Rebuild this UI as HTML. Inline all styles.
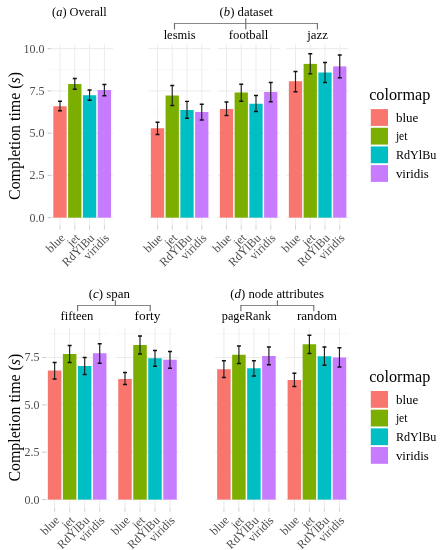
<!DOCTYPE html>
<html><head><meta charset="utf-8"><style>
html,body{margin:0;padding:0;background:#fff;}
svg{display:block;font-family:'Liberation Serif', serif;will-change:transform;}
</style></head><body>
<svg width="440" height="550" viewBox="0 0 440 550">
<rect width="440" height="550" fill="#fff"/>
<line x1="51.1" x2="113.26" y1="196.53" y2="196.53" stroke="#F4F4F4" stroke-width="0.6"/>
<line x1="51.1" x2="113.26" y1="154.28" y2="154.28" stroke="#F4F4F4" stroke-width="0.6"/>
<line x1="51.1" x2="113.26" y1="112.03" y2="112.03" stroke="#F4F4F4" stroke-width="0.6"/>
<line x1="51.1" x2="113.26" y1="69.78" y2="69.78" stroke="#F4F4F4" stroke-width="0.6"/>
<line x1="51.1" x2="113.26" y1="217.65" y2="217.65" stroke="#EBEBEB" stroke-width="1"/>
<line x1="51.1" x2="113.26" y1="175.40" y2="175.40" stroke="#EBEBEB" stroke-width="1"/>
<line x1="51.1" x2="113.26" y1="133.15" y2="133.15" stroke="#EBEBEB" stroke-width="1"/>
<line x1="51.1" x2="113.26" y1="90.90" y2="90.90" stroke="#EBEBEB" stroke-width="1"/>
<line x1="51.1" x2="113.26" y1="48.65" y2="48.65" stroke="#EBEBEB" stroke-width="1"/>
<line x1="59.98" x2="59.98" y1="44.3" y2="225.0" stroke="#EBEBEB" stroke-width="1"/>
<line x1="59.98" x2="59.98" y1="225.0" y2="229.6" stroke="#D4D4D4" stroke-width="1"/>
<line x1="74.78" x2="74.78" y1="44.3" y2="225.0" stroke="#EBEBEB" stroke-width="1"/>
<line x1="74.78" x2="74.78" y1="225.0" y2="229.6" stroke="#D4D4D4" stroke-width="1"/>
<line x1="89.58" x2="89.58" y1="44.3" y2="225.0" stroke="#EBEBEB" stroke-width="1"/>
<line x1="89.58" x2="89.58" y1="225.0" y2="229.6" stroke="#D4D4D4" stroke-width="1"/>
<line x1="104.38" x2="104.38" y1="44.3" y2="225.0" stroke="#EBEBEB" stroke-width="1"/>
<line x1="104.38" x2="104.38" y1="225.0" y2="229.6" stroke="#D4D4D4" stroke-width="1"/>
<line x1="148.65" x2="210.60000000000002" y1="196.53" y2="196.53" stroke="#F4F4F4" stroke-width="0.6"/>
<line x1="148.65" x2="210.60000000000002" y1="154.28" y2="154.28" stroke="#F4F4F4" stroke-width="0.6"/>
<line x1="148.65" x2="210.60000000000002" y1="112.03" y2="112.03" stroke="#F4F4F4" stroke-width="0.6"/>
<line x1="148.65" x2="210.60000000000002" y1="69.78" y2="69.78" stroke="#F4F4F4" stroke-width="0.6"/>
<line x1="148.65" x2="210.60000000000002" y1="217.65" y2="217.65" stroke="#EBEBEB" stroke-width="1"/>
<line x1="148.65" x2="210.60000000000002" y1="175.40" y2="175.40" stroke="#EBEBEB" stroke-width="1"/>
<line x1="148.65" x2="210.60000000000002" y1="133.15" y2="133.15" stroke="#EBEBEB" stroke-width="1"/>
<line x1="148.65" x2="210.60000000000002" y1="90.90" y2="90.90" stroke="#EBEBEB" stroke-width="1"/>
<line x1="148.65" x2="210.60000000000002" y1="48.65" y2="48.65" stroke="#EBEBEB" stroke-width="1"/>
<line x1="157.50" x2="157.50" y1="44.3" y2="225.0" stroke="#EBEBEB" stroke-width="1"/>
<line x1="157.50" x2="157.50" y1="225.0" y2="229.6" stroke="#D4D4D4" stroke-width="1"/>
<line x1="172.25" x2="172.25" y1="44.3" y2="225.0" stroke="#EBEBEB" stroke-width="1"/>
<line x1="172.25" x2="172.25" y1="225.0" y2="229.6" stroke="#D4D4D4" stroke-width="1"/>
<line x1="187.00" x2="187.00" y1="44.3" y2="225.0" stroke="#EBEBEB" stroke-width="1"/>
<line x1="187.00" x2="187.00" y1="225.0" y2="229.6" stroke="#D4D4D4" stroke-width="1"/>
<line x1="201.75" x2="201.75" y1="44.3" y2="225.0" stroke="#EBEBEB" stroke-width="1"/>
<line x1="201.75" x2="201.75" y1="225.0" y2="229.6" stroke="#D4D4D4" stroke-width="1"/>
<line x1="217.65" x2="279.6" y1="196.53" y2="196.53" stroke="#F4F4F4" stroke-width="0.6"/>
<line x1="217.65" x2="279.6" y1="154.28" y2="154.28" stroke="#F4F4F4" stroke-width="0.6"/>
<line x1="217.65" x2="279.6" y1="112.03" y2="112.03" stroke="#F4F4F4" stroke-width="0.6"/>
<line x1="217.65" x2="279.6" y1="69.78" y2="69.78" stroke="#F4F4F4" stroke-width="0.6"/>
<line x1="217.65" x2="279.6" y1="217.65" y2="217.65" stroke="#EBEBEB" stroke-width="1"/>
<line x1="217.65" x2="279.6" y1="175.40" y2="175.40" stroke="#EBEBEB" stroke-width="1"/>
<line x1="217.65" x2="279.6" y1="133.15" y2="133.15" stroke="#EBEBEB" stroke-width="1"/>
<line x1="217.65" x2="279.6" y1="90.90" y2="90.90" stroke="#EBEBEB" stroke-width="1"/>
<line x1="217.65" x2="279.6" y1="48.65" y2="48.65" stroke="#EBEBEB" stroke-width="1"/>
<line x1="226.50" x2="226.50" y1="44.3" y2="225.0" stroke="#EBEBEB" stroke-width="1"/>
<line x1="226.50" x2="226.50" y1="225.0" y2="229.6" stroke="#D4D4D4" stroke-width="1"/>
<line x1="241.25" x2="241.25" y1="44.3" y2="225.0" stroke="#EBEBEB" stroke-width="1"/>
<line x1="241.25" x2="241.25" y1="225.0" y2="229.6" stroke="#D4D4D4" stroke-width="1"/>
<line x1="256.00" x2="256.00" y1="44.3" y2="225.0" stroke="#EBEBEB" stroke-width="1"/>
<line x1="256.00" x2="256.00" y1="225.0" y2="229.6" stroke="#D4D4D4" stroke-width="1"/>
<line x1="270.75" x2="270.75" y1="44.3" y2="225.0" stroke="#EBEBEB" stroke-width="1"/>
<line x1="270.75" x2="270.75" y1="225.0" y2="229.6" stroke="#D4D4D4" stroke-width="1"/>
<line x1="286.65" x2="348.59999999999997" y1="196.53" y2="196.53" stroke="#F4F4F4" stroke-width="0.6"/>
<line x1="286.65" x2="348.59999999999997" y1="154.28" y2="154.28" stroke="#F4F4F4" stroke-width="0.6"/>
<line x1="286.65" x2="348.59999999999997" y1="112.03" y2="112.03" stroke="#F4F4F4" stroke-width="0.6"/>
<line x1="286.65" x2="348.59999999999997" y1="69.78" y2="69.78" stroke="#F4F4F4" stroke-width="0.6"/>
<line x1="286.65" x2="348.59999999999997" y1="217.65" y2="217.65" stroke="#EBEBEB" stroke-width="1"/>
<line x1="286.65" x2="348.59999999999997" y1="175.40" y2="175.40" stroke="#EBEBEB" stroke-width="1"/>
<line x1="286.65" x2="348.59999999999997" y1="133.15" y2="133.15" stroke="#EBEBEB" stroke-width="1"/>
<line x1="286.65" x2="348.59999999999997" y1="90.90" y2="90.90" stroke="#EBEBEB" stroke-width="1"/>
<line x1="286.65" x2="348.59999999999997" y1="48.65" y2="48.65" stroke="#EBEBEB" stroke-width="1"/>
<line x1="295.50" x2="295.50" y1="44.3" y2="225.0" stroke="#EBEBEB" stroke-width="1"/>
<line x1="295.50" x2="295.50" y1="225.0" y2="229.6" stroke="#D4D4D4" stroke-width="1"/>
<line x1="310.25" x2="310.25" y1="44.3" y2="225.0" stroke="#EBEBEB" stroke-width="1"/>
<line x1="310.25" x2="310.25" y1="225.0" y2="229.6" stroke="#D4D4D4" stroke-width="1"/>
<line x1="325.00" x2="325.00" y1="44.3" y2="225.0" stroke="#EBEBEB" stroke-width="1"/>
<line x1="325.00" x2="325.00" y1="225.0" y2="229.6" stroke="#D4D4D4" stroke-width="1"/>
<line x1="339.75" x2="339.75" y1="44.3" y2="225.0" stroke="#EBEBEB" stroke-width="1"/>
<line x1="339.75" x2="339.75" y1="225.0" y2="229.6" stroke="#D4D4D4" stroke-width="1"/>
<line x1="47.6" x2="51.1" y1="217.65" y2="217.65" stroke="#C8C8C8" stroke-width="1"/>
<text x="44.6" y="221.65" text-anchor="end" font-size="12" fill="#4D4D4D">0.0</text>
<line x1="47.6" x2="51.1" y1="175.40" y2="175.40" stroke="#C8C8C8" stroke-width="1"/>
<text x="44.6" y="179.40" text-anchor="end" font-size="12" fill="#4D4D4D">2.5</text>
<line x1="47.6" x2="51.1" y1="133.15" y2="133.15" stroke="#C8C8C8" stroke-width="1"/>
<text x="44.6" y="137.15" text-anchor="end" font-size="12" fill="#4D4D4D">5.0</text>
<line x1="47.6" x2="51.1" y1="90.90" y2="90.90" stroke="#C8C8C8" stroke-width="1"/>
<text x="44.6" y="94.90" text-anchor="end" font-size="12" fill="#4D4D4D">7.5</text>
<line x1="47.6" x2="51.1" y1="48.65" y2="48.65" stroke="#C8C8C8" stroke-width="1"/>
<text x="44.6" y="52.65" text-anchor="end" font-size="12" fill="#4D4D4D">10.0</text>
<rect x="53.32" y="106.25" width="13.32" height="111.40" fill="#F8766D"/>
<rect x="68.12" y="84.00" width="13.32" height="133.65" fill="#7CAE00"/>
<rect x="82.92" y="95.25" width="13.32" height="122.40" fill="#00BFC4"/>
<rect x="97.72" y="90.00" width="13.32" height="127.65" fill="#C77CFF"/>
<path d="M59.98 101.25V110.75" stroke="#222" stroke-width="1.15" fill="none"/>
<path d="M57.98 101.25H61.98M57.98 110.75H61.98" stroke="#111" stroke-width="1.4" fill="none"/>
<path d="M74.78 78.50V89.25" stroke="#222" stroke-width="1.15" fill="none"/>
<path d="M72.78 78.50H76.78M72.78 89.25H76.78" stroke="#111" stroke-width="1.4" fill="none"/>
<path d="M89.58 90.00V100.25" stroke="#222" stroke-width="1.15" fill="none"/>
<path d="M87.58 90.00H91.58M87.58 100.25H91.58" stroke="#111" stroke-width="1.4" fill="none"/>
<path d="M104.38 84.50V95.75" stroke="#222" stroke-width="1.15" fill="none"/>
<path d="M102.38 84.50H106.38M102.38 95.75H106.38" stroke="#111" stroke-width="1.4" fill="none"/>
<rect x="150.86" y="128.25" width="13.28" height="89.40" fill="#F8766D"/>
<rect x="165.61" y="95.50" width="13.28" height="122.15" fill="#7CAE00"/>
<rect x="180.36" y="110.00" width="13.28" height="107.65" fill="#00BFC4"/>
<rect x="195.11" y="112.00" width="13.28" height="105.65" fill="#C77CFF"/>
<path d="M157.50 122.20V134.50" stroke="#222" stroke-width="1.15" fill="none"/>
<path d="M155.50 122.20H159.50M155.50 134.50H159.50" stroke="#111" stroke-width="1.4" fill="none"/>
<path d="M172.25 85.50V105.50" stroke="#222" stroke-width="1.15" fill="none"/>
<path d="M170.25 85.50H174.25M170.25 105.50H174.25" stroke="#111" stroke-width="1.4" fill="none"/>
<path d="M187.00 101.40V118.25" stroke="#222" stroke-width="1.15" fill="none"/>
<path d="M185.00 101.40H189.00M185.00 118.25H189.00" stroke="#111" stroke-width="1.4" fill="none"/>
<path d="M201.75 104.20V120.00" stroke="#222" stroke-width="1.15" fill="none"/>
<path d="M199.75 104.20H203.75M199.75 120.00H203.75" stroke="#111" stroke-width="1.4" fill="none"/>
<rect x="219.86" y="109.00" width="13.28" height="108.65" fill="#F8766D"/>
<rect x="234.61" y="92.50" width="13.28" height="125.15" fill="#7CAE00"/>
<rect x="249.36" y="103.75" width="13.28" height="113.90" fill="#00BFC4"/>
<rect x="264.11" y="92.00" width="13.28" height="125.65" fill="#C77CFF"/>
<path d="M226.50 102.00V115.50" stroke="#222" stroke-width="1.15" fill="none"/>
<path d="M224.50 102.00H228.50M224.50 115.50H228.50" stroke="#111" stroke-width="1.4" fill="none"/>
<path d="M241.25 84.25V101.25" stroke="#222" stroke-width="1.15" fill="none"/>
<path d="M239.25 84.25H243.25M239.25 101.25H243.25" stroke="#111" stroke-width="1.4" fill="none"/>
<path d="M256.00 95.50V111.50" stroke="#222" stroke-width="1.15" fill="none"/>
<path d="M254.00 95.50H258.00M254.00 111.50H258.00" stroke="#111" stroke-width="1.4" fill="none"/>
<path d="M270.75 82.50V101.75" stroke="#222" stroke-width="1.15" fill="none"/>
<path d="M268.75 82.50H272.75M268.75 101.75H272.75" stroke="#111" stroke-width="1.4" fill="none"/>
<rect x="288.86" y="81.25" width="13.28" height="136.40" fill="#F8766D"/>
<rect x="303.61" y="63.90" width="13.28" height="153.75" fill="#7CAE00"/>
<rect x="318.36" y="72.50" width="13.28" height="145.15" fill="#00BFC4"/>
<rect x="333.11" y="66.40" width="13.28" height="151.25" fill="#C77CFF"/>
<path d="M295.50 71.50V91.75" stroke="#222" stroke-width="1.15" fill="none"/>
<path d="M293.50 71.50H297.50M293.50 91.75H297.50" stroke="#111" stroke-width="1.4" fill="none"/>
<path d="M310.25 53.80V73.90" stroke="#222" stroke-width="1.15" fill="none"/>
<path d="M308.25 53.80H312.25M308.25 73.90H312.25" stroke="#111" stroke-width="1.4" fill="none"/>
<path d="M325.00 62.50V82.50" stroke="#222" stroke-width="1.15" fill="none"/>
<path d="M323.00 62.50H327.00M323.00 82.50H327.00" stroke="#111" stroke-width="1.4" fill="none"/>
<path d="M339.75 55.00V77.80" stroke="#222" stroke-width="1.15" fill="none"/>
<path d="M337.75 55.00H341.75M337.75 77.80H341.75" stroke="#111" stroke-width="1.4" fill="none"/>
<line x1="45.6" x2="108.726" y1="475.91" y2="475.91" stroke="#F4F4F4" stroke-width="0.6"/>
<line x1="45.6" x2="108.726" y1="428.54" y2="428.54" stroke="#F4F4F4" stroke-width="0.6"/>
<line x1="45.6" x2="108.726" y1="381.16" y2="381.16" stroke="#F4F4F4" stroke-width="0.6"/>
<line x1="45.6" x2="108.726" y1="333.79" y2="333.79" stroke="#F4F4F4" stroke-width="0.6"/>
<line x1="45.6" x2="108.726" y1="499.60" y2="499.60" stroke="#EBEBEB" stroke-width="1"/>
<line x1="45.6" x2="108.726" y1="452.23" y2="452.23" stroke="#EBEBEB" stroke-width="1"/>
<line x1="45.6" x2="108.726" y1="404.85" y2="404.85" stroke="#EBEBEB" stroke-width="1"/>
<line x1="45.6" x2="108.726" y1="357.48" y2="357.48" stroke="#EBEBEB" stroke-width="1"/>
<line x1="54.62" x2="54.62" y1="327.5" y2="507.5" stroke="#EBEBEB" stroke-width="1"/>
<line x1="54.62" x2="54.62" y1="507.5" y2="511.8" stroke="#D4D4D4" stroke-width="1"/>
<line x1="69.65" x2="69.65" y1="327.5" y2="507.5" stroke="#EBEBEB" stroke-width="1"/>
<line x1="69.65" x2="69.65" y1="507.5" y2="511.8" stroke="#D4D4D4" stroke-width="1"/>
<line x1="84.68" x2="84.68" y1="327.5" y2="507.5" stroke="#EBEBEB" stroke-width="1"/>
<line x1="84.68" x2="84.68" y1="507.5" y2="511.8" stroke="#D4D4D4" stroke-width="1"/>
<line x1="99.71" x2="99.71" y1="327.5" y2="507.5" stroke="#EBEBEB" stroke-width="1"/>
<line x1="99.71" x2="99.71" y1="507.5" y2="511.8" stroke="#D4D4D4" stroke-width="1"/>
<line x1="116.0" x2="179.0" y1="475.91" y2="475.91" stroke="#F4F4F4" stroke-width="0.6"/>
<line x1="116.0" x2="179.0" y1="428.54" y2="428.54" stroke="#F4F4F4" stroke-width="0.6"/>
<line x1="116.0" x2="179.0" y1="381.16" y2="381.16" stroke="#F4F4F4" stroke-width="0.6"/>
<line x1="116.0" x2="179.0" y1="333.79" y2="333.79" stroke="#F4F4F4" stroke-width="0.6"/>
<line x1="116.0" x2="179.0" y1="499.60" y2="499.60" stroke="#EBEBEB" stroke-width="1"/>
<line x1="116.0" x2="179.0" y1="452.23" y2="452.23" stroke="#EBEBEB" stroke-width="1"/>
<line x1="116.0" x2="179.0" y1="404.85" y2="404.85" stroke="#EBEBEB" stroke-width="1"/>
<line x1="116.0" x2="179.0" y1="357.48" y2="357.48" stroke="#EBEBEB" stroke-width="1"/>
<line x1="125.00" x2="125.00" y1="327.5" y2="507.5" stroke="#EBEBEB" stroke-width="1"/>
<line x1="125.00" x2="125.00" y1="507.5" y2="511.8" stroke="#D4D4D4" stroke-width="1"/>
<line x1="140.00" x2="140.00" y1="327.5" y2="507.5" stroke="#EBEBEB" stroke-width="1"/>
<line x1="140.00" x2="140.00" y1="507.5" y2="511.8" stroke="#D4D4D4" stroke-width="1"/>
<line x1="155.00" x2="155.00" y1="327.5" y2="507.5" stroke="#EBEBEB" stroke-width="1"/>
<line x1="155.00" x2="155.00" y1="507.5" y2="511.8" stroke="#D4D4D4" stroke-width="1"/>
<line x1="170.00" x2="170.00" y1="327.5" y2="507.5" stroke="#EBEBEB" stroke-width="1"/>
<line x1="170.00" x2="170.00" y1="507.5" y2="511.8" stroke="#D4D4D4" stroke-width="1"/>
<line x1="214.9" x2="277.9" y1="475.91" y2="475.91" stroke="#F4F4F4" stroke-width="0.6"/>
<line x1="214.9" x2="277.9" y1="428.54" y2="428.54" stroke="#F4F4F4" stroke-width="0.6"/>
<line x1="214.9" x2="277.9" y1="381.16" y2="381.16" stroke="#F4F4F4" stroke-width="0.6"/>
<line x1="214.9" x2="277.9" y1="333.79" y2="333.79" stroke="#F4F4F4" stroke-width="0.6"/>
<line x1="214.9" x2="277.9" y1="499.60" y2="499.60" stroke="#EBEBEB" stroke-width="1"/>
<line x1="214.9" x2="277.9" y1="452.23" y2="452.23" stroke="#EBEBEB" stroke-width="1"/>
<line x1="214.9" x2="277.9" y1="404.85" y2="404.85" stroke="#EBEBEB" stroke-width="1"/>
<line x1="214.9" x2="277.9" y1="357.48" y2="357.48" stroke="#EBEBEB" stroke-width="1"/>
<line x1="223.90" x2="223.90" y1="327.5" y2="507.5" stroke="#EBEBEB" stroke-width="1"/>
<line x1="223.90" x2="223.90" y1="507.5" y2="511.8" stroke="#D4D4D4" stroke-width="1"/>
<line x1="238.90" x2="238.90" y1="327.5" y2="507.5" stroke="#EBEBEB" stroke-width="1"/>
<line x1="238.90" x2="238.90" y1="507.5" y2="511.8" stroke="#D4D4D4" stroke-width="1"/>
<line x1="253.90" x2="253.90" y1="327.5" y2="507.5" stroke="#EBEBEB" stroke-width="1"/>
<line x1="253.90" x2="253.90" y1="507.5" y2="511.8" stroke="#D4D4D4" stroke-width="1"/>
<line x1="268.90" x2="268.90" y1="327.5" y2="507.5" stroke="#EBEBEB" stroke-width="1"/>
<line x1="268.90" x2="268.90" y1="507.5" y2="511.8" stroke="#D4D4D4" stroke-width="1"/>
<line x1="285.35" x2="348.476" y1="475.91" y2="475.91" stroke="#F4F4F4" stroke-width="0.6"/>
<line x1="285.35" x2="348.476" y1="428.54" y2="428.54" stroke="#F4F4F4" stroke-width="0.6"/>
<line x1="285.35" x2="348.476" y1="381.16" y2="381.16" stroke="#F4F4F4" stroke-width="0.6"/>
<line x1="285.35" x2="348.476" y1="333.79" y2="333.79" stroke="#F4F4F4" stroke-width="0.6"/>
<line x1="285.35" x2="348.476" y1="499.60" y2="499.60" stroke="#EBEBEB" stroke-width="1"/>
<line x1="285.35" x2="348.476" y1="452.23" y2="452.23" stroke="#EBEBEB" stroke-width="1"/>
<line x1="285.35" x2="348.476" y1="404.85" y2="404.85" stroke="#EBEBEB" stroke-width="1"/>
<line x1="285.35" x2="348.476" y1="357.48" y2="357.48" stroke="#EBEBEB" stroke-width="1"/>
<line x1="294.37" x2="294.37" y1="327.5" y2="507.5" stroke="#EBEBEB" stroke-width="1"/>
<line x1="294.37" x2="294.37" y1="507.5" y2="511.8" stroke="#D4D4D4" stroke-width="1"/>
<line x1="309.40" x2="309.40" y1="327.5" y2="507.5" stroke="#EBEBEB" stroke-width="1"/>
<line x1="309.40" x2="309.40" y1="507.5" y2="511.8" stroke="#D4D4D4" stroke-width="1"/>
<line x1="324.43" x2="324.43" y1="327.5" y2="507.5" stroke="#EBEBEB" stroke-width="1"/>
<line x1="324.43" x2="324.43" y1="507.5" y2="511.8" stroke="#D4D4D4" stroke-width="1"/>
<line x1="339.46" x2="339.46" y1="327.5" y2="507.5" stroke="#EBEBEB" stroke-width="1"/>
<line x1="339.46" x2="339.46" y1="507.5" y2="511.8" stroke="#D4D4D4" stroke-width="1"/>
<line x1="42.2" x2="45.6" y1="499.60" y2="499.60" stroke="#C8C8C8" stroke-width="1"/>
<text x="39.4" y="503.60" text-anchor="end" font-size="12" fill="#4D4D4D">0.0</text>
<line x1="42.2" x2="45.6" y1="452.23" y2="452.23" stroke="#C8C8C8" stroke-width="1"/>
<text x="39.4" y="456.23" text-anchor="end" font-size="12" fill="#4D4D4D">2.5</text>
<line x1="42.2" x2="45.6" y1="404.85" y2="404.85" stroke="#C8C8C8" stroke-width="1"/>
<text x="39.4" y="408.85" text-anchor="end" font-size="12" fill="#4D4D4D">5.0</text>
<line x1="42.2" x2="45.6" y1="357.48" y2="357.48" stroke="#C8C8C8" stroke-width="1"/>
<text x="39.4" y="361.48" text-anchor="end" font-size="12" fill="#4D4D4D">7.5</text>
<rect x="47.85" y="370.50" width="13.53" height="129.10" fill="#F8766D"/>
<rect x="62.88" y="354.00" width="13.53" height="145.60" fill="#7CAE00"/>
<rect x="77.91" y="366.00" width="13.53" height="133.60" fill="#00BFC4"/>
<rect x="92.94" y="353.25" width="13.53" height="146.35" fill="#C77CFF"/>
<path d="M54.62 362.50V379.00" stroke="#222" stroke-width="1.15" fill="none"/>
<path d="M52.62 362.50H56.62M52.62 379.00H56.62" stroke="#111" stroke-width="1.4" fill="none"/>
<path d="M69.65 345.50V362.50" stroke="#222" stroke-width="1.15" fill="none"/>
<path d="M67.65 345.50H71.65M67.65 362.50H71.65" stroke="#111" stroke-width="1.4" fill="none"/>
<path d="M84.68 357.50V374.50" stroke="#222" stroke-width="1.15" fill="none"/>
<path d="M82.68 357.50H86.68M82.68 374.50H86.68" stroke="#111" stroke-width="1.4" fill="none"/>
<path d="M99.71 343.75V363.25" stroke="#222" stroke-width="1.15" fill="none"/>
<path d="M97.71 343.75H101.71M97.71 363.25H101.71" stroke="#111" stroke-width="1.4" fill="none"/>
<rect x="118.25" y="379.00" width="13.50" height="120.60" fill="#F8766D"/>
<rect x="133.25" y="345.00" width="13.50" height="154.60" fill="#7CAE00"/>
<rect x="148.25" y="358.25" width="13.50" height="141.35" fill="#00BFC4"/>
<rect x="163.25" y="359.75" width="13.50" height="139.85" fill="#C77CFF"/>
<path d="M125.00 372.50V384.50" stroke="#222" stroke-width="1.15" fill="none"/>
<path d="M123.00 372.50H127.00M123.00 384.50H127.00" stroke="#111" stroke-width="1.4" fill="none"/>
<path d="M140.00 336.00V354.00" stroke="#222" stroke-width="1.15" fill="none"/>
<path d="M138.00 336.00H142.00M138.00 354.00H142.00" stroke="#111" stroke-width="1.4" fill="none"/>
<path d="M155.00 350.50V366.25" stroke="#222" stroke-width="1.15" fill="none"/>
<path d="M153.00 350.50H157.00M153.00 366.25H157.00" stroke="#111" stroke-width="1.4" fill="none"/>
<path d="M170.00 351.50V368.25" stroke="#222" stroke-width="1.15" fill="none"/>
<path d="M168.00 351.50H172.00M168.00 368.25H172.00" stroke="#111" stroke-width="1.4" fill="none"/>
<rect x="217.15" y="369.25" width="13.50" height="130.35" fill="#F8766D"/>
<rect x="232.15" y="354.75" width="13.50" height="144.85" fill="#7CAE00"/>
<rect x="247.15" y="368.25" width="13.50" height="131.35" fill="#00BFC4"/>
<rect x="262.15" y="356.00" width="13.50" height="143.60" fill="#C77CFF"/>
<path d="M223.90 360.75V377.50" stroke="#222" stroke-width="1.15" fill="none"/>
<path d="M221.90 360.75H225.90M221.90 377.50H225.90" stroke="#111" stroke-width="1.4" fill="none"/>
<path d="M238.90 346.00V363.50" stroke="#222" stroke-width="1.15" fill="none"/>
<path d="M236.90 346.00H240.90M236.90 363.50H240.90" stroke="#111" stroke-width="1.4" fill="none"/>
<path d="M253.90 360.75V376.00" stroke="#222" stroke-width="1.15" fill="none"/>
<path d="M251.90 360.75H255.90M251.90 376.00H255.90" stroke="#111" stroke-width="1.4" fill="none"/>
<path d="M268.90 347.00V364.75" stroke="#222" stroke-width="1.15" fill="none"/>
<path d="M266.90 347.00H270.90M266.90 364.75H270.90" stroke="#111" stroke-width="1.4" fill="none"/>
<rect x="287.60" y="380.00" width="13.53" height="119.60" fill="#F8766D"/>
<rect x="302.63" y="344.25" width="13.53" height="155.35" fill="#7CAE00"/>
<rect x="317.66" y="356.25" width="13.53" height="143.35" fill="#00BFC4"/>
<rect x="332.69" y="357.50" width="13.53" height="142.10" fill="#C77CFF"/>
<path d="M294.37 373.25V386.50" stroke="#222" stroke-width="1.15" fill="none"/>
<path d="M292.37 373.25H296.37M292.37 386.50H296.37" stroke="#111" stroke-width="1.4" fill="none"/>
<path d="M309.40 335.25V353.50" stroke="#222" stroke-width="1.15" fill="none"/>
<path d="M307.40 335.25H311.40M307.40 353.50H311.40" stroke="#111" stroke-width="1.4" fill="none"/>
<path d="M324.43 347.00V365.25" stroke="#222" stroke-width="1.15" fill="none"/>
<path d="M322.43 347.00H326.43M322.43 365.25H326.43" stroke="#111" stroke-width="1.4" fill="none"/>
<path d="M339.46 347.75V367.00" stroke="#222" stroke-width="1.15" fill="none"/>
<path d="M337.46 347.75H341.46M337.46 367.00H341.46" stroke="#111" stroke-width="1.4" fill="none"/>
<text transform="translate(65.48,238.70) rotate(-45)" text-anchor="end" font-size="12.0" fill="#4D4D4D">blue</text>
<text transform="translate(80.28,238.70) rotate(-45)" text-anchor="end" font-size="12.0" fill="#4D4D4D">jet</text>
<text transform="translate(95.08,238.70) rotate(-45)" text-anchor="end" font-size="12.0" fill="#4D4D4D">RdYlBu</text>
<text transform="translate(109.88,238.70) rotate(-45)" text-anchor="end" font-size="12.0" fill="#4D4D4D">viridis</text>
<text transform="translate(163.00,238.70) rotate(-45)" text-anchor="end" font-size="12.0" fill="#4D4D4D">blue</text>
<text transform="translate(177.75,238.70) rotate(-45)" text-anchor="end" font-size="12.0" fill="#4D4D4D">jet</text>
<text transform="translate(192.50,238.70) rotate(-45)" text-anchor="end" font-size="12.0" fill="#4D4D4D">RdYlBu</text>
<text transform="translate(207.25,238.70) rotate(-45)" text-anchor="end" font-size="12.0" fill="#4D4D4D">viridis</text>
<text transform="translate(232.00,238.70) rotate(-45)" text-anchor="end" font-size="12.0" fill="#4D4D4D">blue</text>
<text transform="translate(246.75,238.70) rotate(-45)" text-anchor="end" font-size="12.0" fill="#4D4D4D">jet</text>
<text transform="translate(261.50,238.70) rotate(-45)" text-anchor="end" font-size="12.0" fill="#4D4D4D">RdYlBu</text>
<text transform="translate(276.25,238.70) rotate(-45)" text-anchor="end" font-size="12.0" fill="#4D4D4D">viridis</text>
<text transform="translate(301.00,238.70) rotate(-45)" text-anchor="end" font-size="12.0" fill="#4D4D4D">blue</text>
<text transform="translate(315.75,238.70) rotate(-45)" text-anchor="end" font-size="12.0" fill="#4D4D4D">jet</text>
<text transform="translate(330.50,238.70) rotate(-45)" text-anchor="end" font-size="12.0" fill="#4D4D4D">RdYlBu</text>
<text transform="translate(345.25,238.70) rotate(-45)" text-anchor="end" font-size="12.0" fill="#4D4D4D">viridis</text>
<text transform="translate(60.12,521.10) rotate(-45)" text-anchor="end" font-size="12.0" fill="#4D4D4D">blue</text>
<text transform="translate(75.15,521.10) rotate(-45)" text-anchor="end" font-size="12.0" fill="#4D4D4D">jet</text>
<text transform="translate(90.18,521.10) rotate(-45)" text-anchor="end" font-size="12.0" fill="#4D4D4D">RdYlBu</text>
<text transform="translate(105.21,521.10) rotate(-45)" text-anchor="end" font-size="12.0" fill="#4D4D4D">viridis</text>
<text transform="translate(130.50,521.10) rotate(-45)" text-anchor="end" font-size="12.0" fill="#4D4D4D">blue</text>
<text transform="translate(145.50,521.10) rotate(-45)" text-anchor="end" font-size="12.0" fill="#4D4D4D">jet</text>
<text transform="translate(160.50,521.10) rotate(-45)" text-anchor="end" font-size="12.0" fill="#4D4D4D">RdYlBu</text>
<text transform="translate(175.50,521.10) rotate(-45)" text-anchor="end" font-size="12.0" fill="#4D4D4D">viridis</text>
<text transform="translate(229.40,521.10) rotate(-45)" text-anchor="end" font-size="12.0" fill="#4D4D4D">blue</text>
<text transform="translate(244.40,521.10) rotate(-45)" text-anchor="end" font-size="12.0" fill="#4D4D4D">jet</text>
<text transform="translate(259.40,521.10) rotate(-45)" text-anchor="end" font-size="12.0" fill="#4D4D4D">RdYlBu</text>
<text transform="translate(274.40,521.10) rotate(-45)" text-anchor="end" font-size="12.0" fill="#4D4D4D">viridis</text>
<text transform="translate(299.87,521.10) rotate(-45)" text-anchor="end" font-size="12.0" fill="#4D4D4D">blue</text>
<text transform="translate(314.90,521.10) rotate(-45)" text-anchor="end" font-size="12.0" fill="#4D4D4D">jet</text>
<text transform="translate(329.93,521.10) rotate(-45)" text-anchor="end" font-size="12.0" fill="#4D4D4D">RdYlBu</text>
<text transform="translate(344.96,521.10) rotate(-45)" text-anchor="end" font-size="12.0" fill="#4D4D4D">viridis</text>
<text x="369.2" y="100.2" font-size="15.8" fill="#000" textLength="61.1" lengthAdjust="spacingAndGlyphs">colormap</text>
<rect x="370.8" y="109.10" width="17.2" height="16.8" fill="#F8766D"/>
<text x="395.9" y="121.60" font-size="12.0" fill="#000" textLength="22.4" lengthAdjust="spacingAndGlyphs">blue</text>
<rect x="370.8" y="127.77" width="17.2" height="16.8" fill="#7CAE00"/>
<text x="395.9" y="140.27" font-size="12.0" fill="#000" textLength="11.6" lengthAdjust="spacingAndGlyphs">jet</text>
<rect x="370.8" y="146.44" width="17.2" height="16.8" fill="#00BFC4"/>
<text x="395.9" y="158.94" font-size="12.0" fill="#000" textLength="40.5" lengthAdjust="spacingAndGlyphs">RdYlBu</text>
<rect x="370.8" y="165.11" width="17.2" height="16.8" fill="#C77CFF"/>
<text x="395.9" y="177.61" font-size="12.0" fill="#000" textLength="32.9" lengthAdjust="spacingAndGlyphs">viridis</text>
<text x="369.2" y="381.7" font-size="15.8" fill="#000" textLength="61.1" lengthAdjust="spacingAndGlyphs">colormap</text>
<rect x="370.8" y="391.00" width="17.2" height="16.8" fill="#F8766D"/>
<text x="395.9" y="403.50" font-size="12.0" fill="#000" textLength="22.4" lengthAdjust="spacingAndGlyphs">blue</text>
<rect x="370.8" y="409.67" width="17.2" height="16.8" fill="#7CAE00"/>
<text x="395.9" y="422.17" font-size="12.0" fill="#000" textLength="11.6" lengthAdjust="spacingAndGlyphs">jet</text>
<rect x="370.8" y="428.34" width="17.2" height="16.8" fill="#00BFC4"/>
<text x="395.9" y="440.84" font-size="12.0" fill="#000" textLength="40.5" lengthAdjust="spacingAndGlyphs">RdYlBu</text>
<rect x="370.8" y="447.01" width="17.2" height="16.8" fill="#C77CFF"/>
<text x="395.9" y="459.51" font-size="12.0" fill="#000" textLength="32.9" lengthAdjust="spacingAndGlyphs">viridis</text>
<text transform="translate(19.7,136.0) rotate(-90)" text-anchor="middle" font-size="15.7" fill="#000" textLength="127.9" lengthAdjust="spacingAndGlyphs">Completion time (<tspan font-style="italic">s</tspan>)</text>
<text transform="translate(19.7,417.6) rotate(-90)" text-anchor="middle" font-size="15.7" fill="#000" textLength="127.9" lengthAdjust="spacingAndGlyphs">Completion time (<tspan font-style="italic">s</tspan>)</text>
<text x="79.4" y="16.4" text-anchor="middle" font-size="12.6" fill="#000" textLength="54.6" lengthAdjust="spacingAndGlyphs">(<tspan font-style="italic">a</tspan>) Overall</text>
<text x="246.2" y="16.3" text-anchor="middle" font-size="12.6" fill="#000" textLength="53.3" lengthAdjust="spacingAndGlyphs">(<tspan font-style="italic">b</tspan>) dataset</text>
<text x="109.3" y="297.7" text-anchor="middle" font-size="12.6" fill="#000" textLength="41.2" lengthAdjust="spacingAndGlyphs">(<tspan font-style="italic">c</tspan>) span</text>
<text x="277.1" y="298.0" text-anchor="middle" font-size="12.6" fill="#000" textLength="93.6" lengthAdjust="spacingAndGlyphs">(<tspan font-style="italic">d</tspan>) node attributes</text>
<path d="M174.5 23.5H317.4" stroke="#888" stroke-width="1" fill="none"/>
<path d="M174.5 29.6V23.0M317.4 29.6V23.0M245.8 29.6V18.2" stroke="#6a6a6a" stroke-width="1.1" fill="none"/>
<path d="M77.6 305.5H150.2" stroke="#888" stroke-width="1" fill="none"/>
<path d="M77.6 311.2V305.0M150.2 311.2V305.0M115.4 305.5V300.2" stroke="#6a6a6a" stroke-width="1.1" fill="none"/>
<path d="M240.9 305.5H313.8" stroke="#888" stroke-width="1" fill="none"/>
<path d="M240.9 311.2V305.0M313.8 311.2V305.0M277.4 305.5V300.2" stroke="#6a6a6a" stroke-width="1.1" fill="none"/>
<text x="179.6" y="38.6" text-anchor="middle" font-size="12.2" fill="#000" textLength="31.9" lengthAdjust="spacingAndGlyphs">lesmis</text>
<text x="248.6" y="38.6" text-anchor="middle" font-size="12.2" fill="#000" textLength="39.5" lengthAdjust="spacingAndGlyphs">football</text>
<text x="317.6" y="38.6" text-anchor="middle" font-size="12.2" fill="#000" textLength="20.6" lengthAdjust="spacingAndGlyphs">jazz</text>
<text x="77.0" y="320.3" text-anchor="middle" font-size="12.2" fill="#000" textLength="32.8" lengthAdjust="spacingAndGlyphs">fifteen</text>
<text x="147.5" y="320.3" text-anchor="middle" font-size="12.2" fill="#000" textLength="25.8" lengthAdjust="spacingAndGlyphs">forty</text>
<text x="246.3" y="320.3" text-anchor="middle" font-size="12.2" fill="#000" textLength="49.0" lengthAdjust="spacingAndGlyphs">pageRank</text>
<text x="317.0" y="320.3" text-anchor="middle" font-size="12.2" fill="#000" textLength="40.2" lengthAdjust="spacingAndGlyphs">random</text>
</svg>
</body></html>
